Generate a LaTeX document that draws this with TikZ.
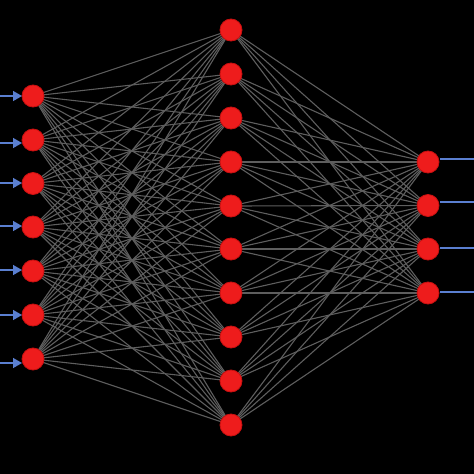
\documentclass[tikz,border=0pt]{standalone}
\usetikzlibrary{arrows.meta}
\definecolor{neuron}{HTML}{EE1C1C}
\definecolor{neuronedge}{HTML}{C81010}
\definecolor{wire}{HTML}{5E5E5E}
\definecolor{iowire}{HTML}{5A7FD0}
\tikzset{
  neuronnode/.style={circle, fill=neuron, draw=neuronedge, line width=0.8pt, minimum size=22pt, inner sep=0pt},
  weight/.style={draw=wire, line width=1.1pt},
  inarrow/.style={draw=iowire, line width=1.5pt, -{Triangle[length=9pt,width=10pt]}},
  outline/.style={draw=iowire, line width=1.5pt}
}
\begin{document}
\begin{tikzpicture}[x=1pt,y=-1pt]
\fill[black] (0,0) rectangle (474,474);
\useasboundingbox (0,0) rectangle (474,474);
% input layer
\foreach \i/\y in {1/96,2/140,3/183.5,4/227,5/271,6/315,7/359}
  \coordinate (ip\i) at (33,\y);
% hidden layer
\foreach \j/\y in {1/30,2/74,3/118,4/162,5/206,6/249,7/293,8/337,9/381,10/425}
  \coordinate (hp\j) at (231,\y);
% output layer
\foreach \k/\y in {1/162,2/205.5,3/249,4/293}
  \coordinate (op\k) at (428,\y);
% weights
\foreach \i in {1,...,7}
  \foreach \j in {1,...,10}
    \draw[weight] (ip\i) -- (hp\j);
\foreach \j in {1,...,10}
  \foreach \k in {1,...,4}
    \draw[weight] (hp\j) -- (op\k);
% neurons
\foreach \i in {1,...,7}
  \node[neuronnode] (i\i) at (ip\i) {};
\foreach \j in {1,...,10}
  \node[neuronnode] (h\j) at (hp\j) {};
\foreach \k in {1,...,4}
  \node[neuronnode] (o\k) at (op\k) {};
% input arrows
\foreach \i/\y in {1/96,2/143,3/183,4/226,5/270,6/315,7/363}
{
  \coordinate (a\i) at (0,\y);
  \coordinate (b\i) at (22,\y);
  \draw[inarrow] (a\i) -- (b\i);
}
% output lines
\foreach \k/\y in {1/159,2/202,3/248,4/292}
{
  \coordinate (c\k) at (440,\y);
  \coordinate (d\k) at (474,\y);
  \draw[outline] (c\k) -- (d\k);
}
\end{tikzpicture}
\end{document}
